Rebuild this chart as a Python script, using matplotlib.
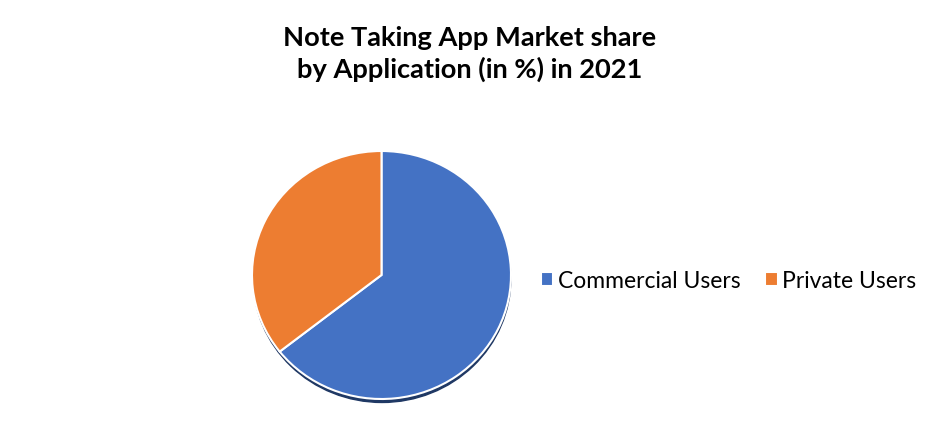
import matplotlib.pyplot as plt
from matplotlib.patches import Ellipse

title = "Note Taking App Market share\nby Application (in %) in 2021"
labels = ["Commercial Users", "Private Users"]
shares = [64.4, 35.6]
colors = ["#4472C4", "#ED7D31"]

W, H = 940, 447
fig = plt.figure(figsize=(W / 100, H / 100), dpi=100)

# pie box in pixel coordinates (left, top, right, bottom)
l, t, r, b = 252, 151, 511, 399
ax = fig.add_axes([l / W, 1 - b / H, (r - l) / W, (b - t) / H])

# drop shadow under the pie
shadow = Ellipse((0.004, -0.028), 1.99, 2, color="#1F3864", zorder=0, clip_on=False)
ax.add_patch(shadow)

wedges, _ = ax.pie(shares, colors=colors, startangle=90, counterclock=False,
                   radius=1, wedgeprops=dict(edgecolor="white", linewidth=1.5))
for w in wedges:
    w.set_clip_on(False)
ax.set_aspect("auto")
ax.set_xlim(-1, 1)
ax.set_ylim(-1, 1)
ax.axis("off")

fig.text(0.5, 1 - 54 / H, title, ha="center", va="center", fontsize=19.6,
         fontweight="bold", family="Lato", linespacing=1.3)

fig.legend(wedges, labels, ncol=2, frameon=False, loc="center left",
           bbox_to_anchor=(520 / W, 1 - 281 / H), prop=dict(family="Lato", size=16.5),
           handlelength=0.55, handleheight=0.55, handletextpad=0.2, columnspacing=1.08)

fig.savefig("out.png", dpi=100)
